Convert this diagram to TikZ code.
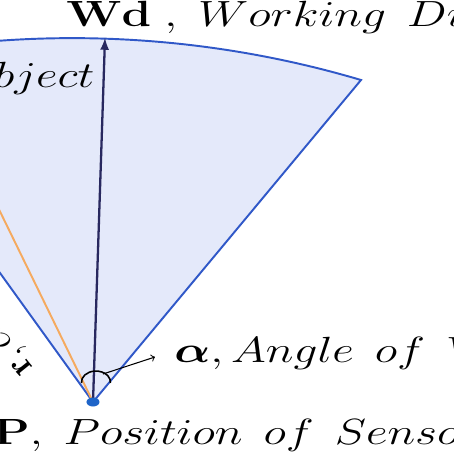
\documentclass[tikz,border=0pt]{standalone}
\usepackage{amsmath,amssymb,bm}
\usepackage{xcolor}
\definecolor{fovfill}{RGB}{228,233,250}
\definecolor{fovedge}{RGB}{48,88,200}
\definecolor{wdnavy}{RGB}{40,40,95}
\definecolor{rayorange}{RGB}{245,170,95}
\definecolor{sensorblue}{RGB}{30,100,200}
\newcommand{\lbl}[1]{\fontsize{20}{22}\selectfont$#1$}
\newcommand{\wsp}{\;\,}
\tikzset{fov/.style={draw=fovedge,fill=fovfill,line width=1.1pt},
  ray/.style={draw=rayorange,line width=1.1pt},
  wd/.style={draw=wdnavy,line width=1.3pt,-latex},
  txt/.style={inner sep=0pt,xscale=1.3}}

\begin{document}
\begin{tikzpicture}
\clip (0,0) rectangle (9.08,9.08);
\coordinate (P) at (1.86,1.04);
\coordinate (R) at (7.22,7.48);
\coordinate (W) at (2.10,8.32);
\coordinate (O) at (-1.43,7.78);
\filldraw[fov] (P) -- (R) arc[start angle=73.5,end angle=102.7,radius=20.34] -- cycle;
\draw[ray] (P) -- (O);
\draw[wd] (P) -- (W);
% angle of view
\coordinate (aL) at (1.63,1.42);
\draw[line width=0.9pt] (aL) arc[start angle=185,end angle=-5,x radius=0.29,y radius=0.22];
\coordinate (aS) at (2.06,1.60);
\coordinate (aE) at (3.10,1.94);
\draw[->,line width=0.6pt] (aS) -- (aE);
\fill[sensorblue] (P) ellipse (0.13 and 0.09);
\node[txt,anchor=base west] (wdlbl) at (1.32,8.56) {\lbl{\mathbf{Wd}\;,\; Working\wsp Direction}};
\node[txt,anchor=base east] (objlbl) at (1.90,7.34) {\lbl{\mathbf{O},\; Object}};
\node[txt,anchor=base west] (alphalbl) at (3.48,1.84) {\lbl{\bm{\alpha}, Angle\wsp of\wsp View}};
\node[txt,anchor=base west] (plbl) at (-0.14,0.20) {\lbl{\mathbf{P},\; Position\wsp of\wsp Sensor}};
\node[inner sep=0pt,rotate=129,anchor=base west] (rlbl) at (0.68,1.72) {\lbl{\mathbf{r}, coverage}};
\end{tikzpicture}
\end{document}
